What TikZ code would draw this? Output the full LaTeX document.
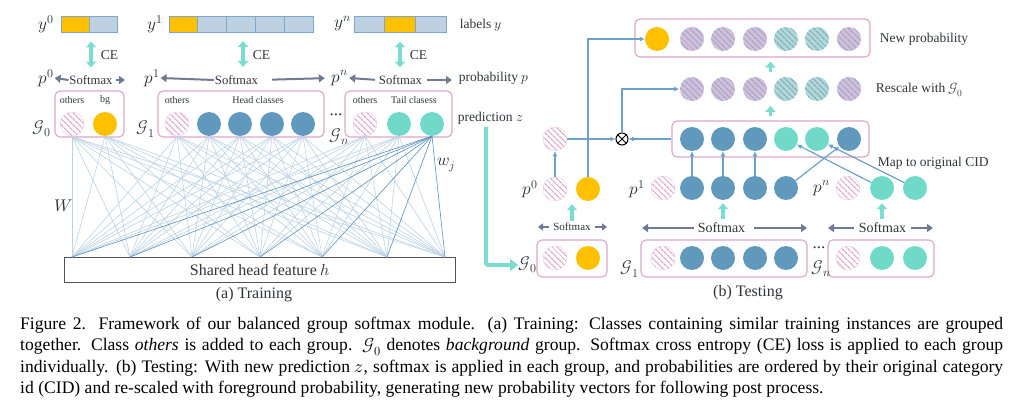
\documentclass[tikz,border=0pt]{standalone}
\usepackage{amsmath,amssymb}
\usepackage{unicode-math}
\setmainfont{Liberation Serif}
\setmathfont{Latin Modern Math}
\usepackage{xcolor}
\usepackage{tikz}
\usetikzlibrary{calc,positioning}
\usetikzlibrary{arrows.meta,patterns.meta}

\definecolor{bgorange}{HTML}{FFC000}
\definecolor{headblue}{HTML}{6199BC}
\definecolor{tailteal}{HTML}{70D9C8}
\definecolor{boxpink}{HTML}{DCA6C6}
\definecolor{hatchpink}{HTML}{E2A6CA}
\definecolor{barblue}{HTML}{BDD1E2}
\definecolor{baredge}{HTML}{7DA7CC}
\definecolor{slate}{HTML}{6E7B93}
\definecolor{wirelight}{HTML}{BCD3E5}
\definecolor{wiredark}{HTML}{5C8FBA}
\definecolor{linkblue}{HTML}{6DA1C9}
\definecolor{ceteal}{HTML}{7BDCCF}
\definecolor{mixpink}{HTML}{DABCD8}
\definecolor{mixblue}{HTML}{9DB2D0}
\definecolor{mixteal}{HTML}{ABDDD6}
\definecolor{mixgrey}{HTML}{98AFC6}
\definecolor{inkgrey}{HTML}{30343A}

\tikzset{
  cls/.style={circle,minimum size=24pt,inner sep=0pt},
  othercls/.style={cls,draw=hatchpink!60,line width=0.4pt,pattern={Lines[angle=-45,distance=4pt,line width=1.3pt]},pattern color=hatchpink},
  bgcls/.style={cls,fill=bgorange},
  headcls/.style={cls,fill=headblue},
  tailcls/.style={cls,fill=tailteal},
  mixhead/.style={cls,preaction={fill=mixpink},pattern={Lines[angle=-45,distance=4pt,line width=1.7pt]},pattern color=mixblue},
  mixtail/.style={cls,preaction={fill=mixteal},pattern={Lines[angle=-45,distance=4pt,line width=1.7pt]},pattern color=mixgrey},
  grpbox/.style={draw=boxpink,line width=1.1pt,rounded corners=5pt,inner sep=0pt},
  labelbar/.style={draw=baredge,fill=barblue,line width=1pt,minimum height=16pt,inner sep=0pt},
  smarrow/.style={draw=slate,line width=2pt,-{Triangle[length=6pt,width=8pt]}},
  smallarrow/.style={draw=slate,line width=1.8pt,-{Triangle[length=5pt,width=7pt]}},
  cearrow/.style={draw=ceteal,line width=3.2pt,{Triangle[length=6pt,width=10pt]}-{Triangle[length=6pt,width=10pt]}},
  uparrow/.style={draw=ceteal,line width=3.2pt,-{Triangle[length=6pt,width=10pt]}},
  predarrow/.style={draw=ceteal,line width=4pt,rounded corners=2pt,-{Triangle[length=8pt,width=12pt]}},
  wire/.style={draw=wirelight,line width=0.6pt},
  link/.style={draw=linkblue,line width=1.2pt,-{Latex[length=5pt,width=5pt]}},
  mathlab/.style={inner sep=0.75pt,text=inkgrey,font=\fontsize{17}{19}\selectfont},
  tinylab/.style={inner sep=0.75pt,text=inkgrey,font=\fontsize{10}{12}\selectfont},
  midlab/.style={inner sep=0.75pt,text=inkgrey,font=\fontsize{12.7}{14}\selectfont},
  sidelab/.style={inner sep=0.75pt,text=inkgrey,font=\fontsize{13.5}{15}\selectfont},
  biglab/.style={inner sep=0.75pt,text=inkgrey,font=\fontsize{16}{18}\selectfont},
}

\begin{document}
\begin{tikzpicture}[x=1pt,y=1pt,yscale=-1,xscale=1]
\useasboundingbox (0,0) rectangle (1021,409);

%%%%%%%%%%%%%%%% (a) Training %%%%%%%%%%%%%%%%
    %Shape: Rectangle [label bars]
    \node[labelbar,minimum width=56pt] (ybar0) at (89,25) {};
    \node[labelbar,minimum width=144pt] (ybar1) at (241,25) {};
    \node[labelbar,minimum width=92pt] (ybarn) at (400,25) {};
    \fill[bgorange] (61.5,17.5) rectangle (89,32.5);
    \fill[bgorange] (169.5,17.5) rectangle (197.8,32.5);
    \fill[bgorange] (384.7,17.5) rectangle (415.3,32.5);
    \foreach \x in {89,197.8,226.6,255.4,284.2,384.7,415.3}
      \draw[baredge,line width=1pt] (\x,17) -- (\x,33);

    % Text Node
    \draw (46,24) node [mathlab] (y0lab) {$y^{0}$};
    \draw (155,24) node [mathlab] (y1lab) {$y^{1}$};
    \draw (343,24) node [mathlab] (ynlab) {$y^{n}$};
    \draw (459,25) node [anchor=west][sidelab] (lablab) {labels $y$};

    % softmax row
    \draw (46,78) node [mathlab] (p0) {$p^{0}$};
    \draw (91,80) node [midlab] (sm0) {Softmax};
    \draw (152,78) node [mathlab] (p1) {$p^{1}$};
    \draw (236.5,80) node [midlab] (sm1) {Softmax};
    \draw (340,78) node [mathlab] (pn) {$p^{n}$};
    \draw (400.5,80) node [midlab] (smn) {Softmax};
    \draw (458,78) node [anchor=west][sidelab] (problab) {probability $p$};
    \coordinate (sm0r) at (125,80);
    \coordinate (smnr) at (452,80);

    \draw[smarrow] (sm0.west) -- (p0.east);
    \draw[smarrow,shorten <=3pt] (sm0.east) -- (sm0r);
    \draw[smarrow] (sm1.west) -- (p1.east);
    \draw[smarrow,shorten <=13pt,shorten >=6pt] (sm1.east) -- (pn.west);
    \draw[smarrow,shorten <=3pt] (smn.west) -- (pn.east);
    \draw[smarrow,shorten <=4pt] (smn.east) -- (smnr);

    % CE arrows
    \draw[cearrow,shorten <=8pt,shorten >=7pt] (ybar0.south -| sm0.north) -- (sm0.north);
    \draw[cearrow,shorten <=8pt,shorten >=7pt] (243,33) -- (243,74);
    \draw[cearrow,shorten <=8pt,shorten >=7pt] (ybarn.south) -- (ybarn.south |- smn.north);
    \draw (100,55) node [anchor=west][sidelab] (ce0) {CE};
    \draw (252,55) node [anchor=west][sidelab] (ce1) {CE};
    \draw (409,55) node [anchor=west][sidelab] (cen) {CE};

    % group boxes
    \node[grpbox,minimum width=69pt,minimum height=46pt] (g0box) at (89.5,114) {};
    \node[grpbox,minimum width=166pt,minimum height=46pt] (g1box) at (241,114) {};
    \node[grpbox,minimum width=107pt,minimum height=46pt] (gnbox) at (398.5,114) {};

    \draw (72,100) node [tinylab] (oth0) {others};
    \draw (105,100) node [tinylab] (bglab) {bg};
    \draw (177,100) node [tinylab] (oth1) {others};
    \draw (258,100) node [tinylab] (headlab) {Head classes};
    \draw (365,100) node [tinylab] (othn) {others};
    \draw (414,100) node [tinylab] (taillab) {Tail clasess};

    %Shape: Circle
    \node[othercls] (g0o) at (72,124) {};
    \node[bgcls] (g0b) at (105,124) {};
    \node[othercls] (g1o) at (177,124) {};
    \node[headcls] (g1a) at (209,124) {};
    \node[headcls] (g1b) at (240,124) {};
    \node[headcls] (g1c) at (272,124) {};
    \node[headcls] (g1d) at (303,124) {};
    \node[othercls] (gno) at (365,124) {};
    \node[tailcls] (gna) at (399,124) {};
    \node[tailcls] (gnb) at (432,124) {};

    \draw (42,129) node [mathlab] (g0lab) {$\mathcal{G}_{0}$};
    \draw (146,129) node [mathlab] (g1lab) {$\mathcal{G}_{1}$};
    \draw (336,115) node [mathlab] (gdots) {...};
    \draw (339,137) node [mathlab] (gnlab) {$\mathcal{G}_{n}$};

    % shared feature and weights
    \node[draw=inkgrey!85,line width=1pt,minimum width=391pt,minimum height=25pt,inner sep=0pt,font=\fontsize{16}{18}\selectfont,text=inkgrey] (feat) at (260,269.5) {Shared head feature $h$};
    \foreach \x [count=\k] in {72,130,192,260,322,387,445}
      \coordinate (h\k) at (\x,257);
    \foreach \c in {g0o,g0b,g1o,g1a,g1b,g1c,g1d,gno,gna}{
      \foreach \k in {1,...,7}
        \draw[wire] (\c.south) -- (h\k);
    }
    \foreach \k in {1,...,7}
      \draw[wire,draw=wiredark] (gnb.south) -- (h\k);

    \draw (64,206) node [mathlab] (wlab) {$W$};
    \draw (446,165) node [mathlab] (wjlab) {$w_{j}$};
    \draw (254,295) node [biglab] (trainlab) {(a) Training};

    % prediction
    \draw (457,118) node [anchor=west][sidelab] (pred) {prediction $z$};

%%%%%%%%%%%%%%%% (b) Testing %%%%%%%%%%%%%%%%
    % bottom groups
    \node[grpbox,minimum width=70pt,minimum height=37pt] (tg0box) at (572,258.5) {};
    \node[grpbox,minimum width=166pt,minimum height=37pt] (tg1box) at (724,258.5) {};
    \node[grpbox,minimum width=106pt,minimum height=37pt] (tgnbox) at (881,258.5) {};

    \node[othercls] (t0o) at (555,258) {};
    \node[bgcls] (t0b) at (588,258) {};
    \node[othercls] (t1o) at (663,258) {};
    \node[headcls] (t1a) at (692,258) {};
    \node[headcls] (t1b) at (723,258) {};
    \node[headcls] (t1c) at (755,258) {};
    \node[headcls] (t1d) at (786,258) {};
    \node[othercls] (tno) at (848,258) {};
    \node[tailcls] (tna) at (882,258) {};
    \node[tailcls] (tnb) at (915,258) {};

    \draw (528,265) node [mathlab] (tg0lab) {$\mathcal{G}_{0}$};
    \draw (630,269) node [mathlab] (tg1lab) {$\mathcal{G}_{1}$};
    \draw (819,248) node [mathlab] (tgdots) {...};
    \draw (821,269) node [mathlab] (tgnlab) {$\mathcal{G}_{n}$};

    \coordinate (predstart) at (486,127);
    \draw[predarrow] (predstart) |- (tg0lab);

    % softmax row
    \draw (572,227) node [tinylab,font=\fontsize{11}{13}\selectfont] (ts0) {Softmax};
    \draw (721.5,228) node [sidelab,font=\fontsize{14}{16}\selectfont] (ts1) {Softmax};
    \draw (882.5,228) node [sidelab,font=\fontsize{14}{16}\selectfont] (tsn) {Softmax};
    \coordinate (ts0l) at (538,227);
    \coordinate (ts0r) at (607,227);
    \coordinate (ts1l) at (642,228);
    \coordinate (ts1r) at (807,228);
    \coordinate (tsnl) at (828,228);
    \coordinate (tsnr) at (933,228);
    \draw[smallarrow,shorten <=3pt] (ts0.west) -- (ts0l);
    \draw[smallarrow,shorten <=3pt] (ts0.east) -- (ts0r);
    \draw[smarrow,shorten <=3pt] (ts1.west) -- (ts1l);
    \draw[smarrow,shorten <=8pt] (ts1.east) -- (ts1r);
    \draw[smarrow,shorten <=4pt] (tsn.west) -- (tsnl);
    \draw[smarrow,shorten <=4pt] (tsn.east) -- (tsnr);

    % probability row
    \draw (530,189) node [mathlab] (tp0lab) {$p^{0}$};
    \draw (637,189) node [mathlab] (tp1lab) {$p^{1}$};
    \draw (822,188) node [mathlab] (tpnlab) {$p^{n}$};
    \node[othercls] (p0o) at (555,189) {};
    \node[bgcls] (p0b) at (588,189) {};
    \node[othercls] (p1o) at (663,188) {};
    \node[headcls] (p1a) at (692,188) {};
    \node[headcls] (p1b) at (723,188) {};
    \node[headcls] (p1c) at (755,188) {};
    \node[headcls] (p1d) at (786,188) {};
    \node[othercls] (pno) at (848,188) {};
    \node[tailcls] (pna) at (882,188) {};
    \node[tailcls] (pnb) at (915,188) {};

    \draw[uparrow,shorten <=1pt,shorten >=3pt] (ts0.north) -- (ts0.north |- p0b.south);
    \draw[uparrow,shorten <=1pt,shorten >=3pt] (723,220) -- (p1b.south);
    \draw[uparrow,shorten <=1pt,shorten >=3pt] (882,220) -- (pna.south);

    % ordered by CID
    \node[grpbox,minimum width=197pt,minimum height=36pt] (cidbox) at (770.5,139) {};
    \node[headcls] (c1) at (692,139) {};
    \node[headcls] (c2) at (723,139) {};
    \node[headcls] (c3) at (755,139) {};
    \node[tailcls] (c4) at (786,139) {};
    \node[tailcls] (c5) at (817,139) {};
    \node[headcls] (c6) at (849,139) {};
    \draw (877,163) node [anchor=west][sidelab] (maplab) {Map to original CID};

    % rescaled
    \node[mixhead] (rs1) at (692,89) {};
    \node[mixhead] (rs2) at (723,89) {};
    \node[mixhead] (rs3) at (755,89) {};
    \node[mixtail] (rs4) at (786,89) {};
    \node[mixtail] (rs5) at (817,89) {};
    \node[mixhead] (rs6) at (849,89) {};
    \draw (875,90) node [anchor=west][sidelab] (rslab) {Rescale with $\mathcal{G}_{0}$};

    % new probability
    \node[grpbox,minimum width=235pt,minimum height=38pt] (newbox) at (752.5,38) {};
    \node[bgcls] (np0) at (657,39) {};
    \node[mixhead] (np1) at (692,39) {};
    \node[mixhead] (np2) at (723,39) {};
    \node[mixhead] (np3) at (755,39) {};
    \node[mixtail] (np4) at (786,39) {};
    \node[mixtail] (np5) at (817,39) {};
    \node[mixhead] (np6) at (849,39) {};
    \draw (879,39) node [anchor=west][sidelab] (newlab) {New probability};

    \draw[uparrow,shorten <=4pt,shorten >=4pt] (cidbox.north) -- (cidbox.north |- rs1.south);
    \draw[uparrow,shorten <=4pt,shorten >=4pt] (cidbox.north |- rs1.north) -- (cidbox.north |- newbox.south);

    % multiply
    \node[circle,draw=black,line width=1pt,minimum size=12pt,inner sep=0pt] (mul) at (622,139) {};
    \draw[line width=1pt] (mul.45) -- (mul.225);
    \draw[line width=1pt] (mul.135) -- (mul.315);
    \node[othercls] (fgo) at (555,139) {};

    % connectors
    \draw[link] (p0o) -- (fgo);
    \draw[link] (fgo) -- (mul);
    \draw[link] (cidbox.west) -- (mul);
    \draw[link] (mul) |- (rs1);
    \draw[link] (p0b) |- (np0);
    \draw[link] (p1a) -- (c1);
    \draw[link] (p1b) -- (c2);
    \draw[link] (p1c) -- (c3);
    \draw[link] (p1d) -- (c6);
    \draw[link] (pna) -- (c4);
    \draw[link] (pnb) -- (c5);

    \draw (748,293) node [biglab] (testlab) {(b) Testing};

%%%%%%%%%%%%%%%% caption %%%%%%%%%%%%%%%%
    \node[anchor=north west,inner sep=0pt,text width=983pt,align=justify,font=\fontsize{17.6}{21.3}\selectfont] (caption) at (20,317) {Figure 2. Framework of our balanced group softmax module. (a) Training: Classes containing similar training instances are grouped\linebreak together. Class \emph{others} is added to each group. $\mathcal{G}_{0}$ denotes \emph{background} group. Softmax cross entropy (CE) loss is applied to each group\linebreak individually. (b) Testing: With new prediction $z$, softmax is applied in each group, and probabilities are ordered by their original category\linebreak id (CID) and re-scaled with foreground probability, generating new probability vectors for following post process.};

\end{tikzpicture}
\end{document}
